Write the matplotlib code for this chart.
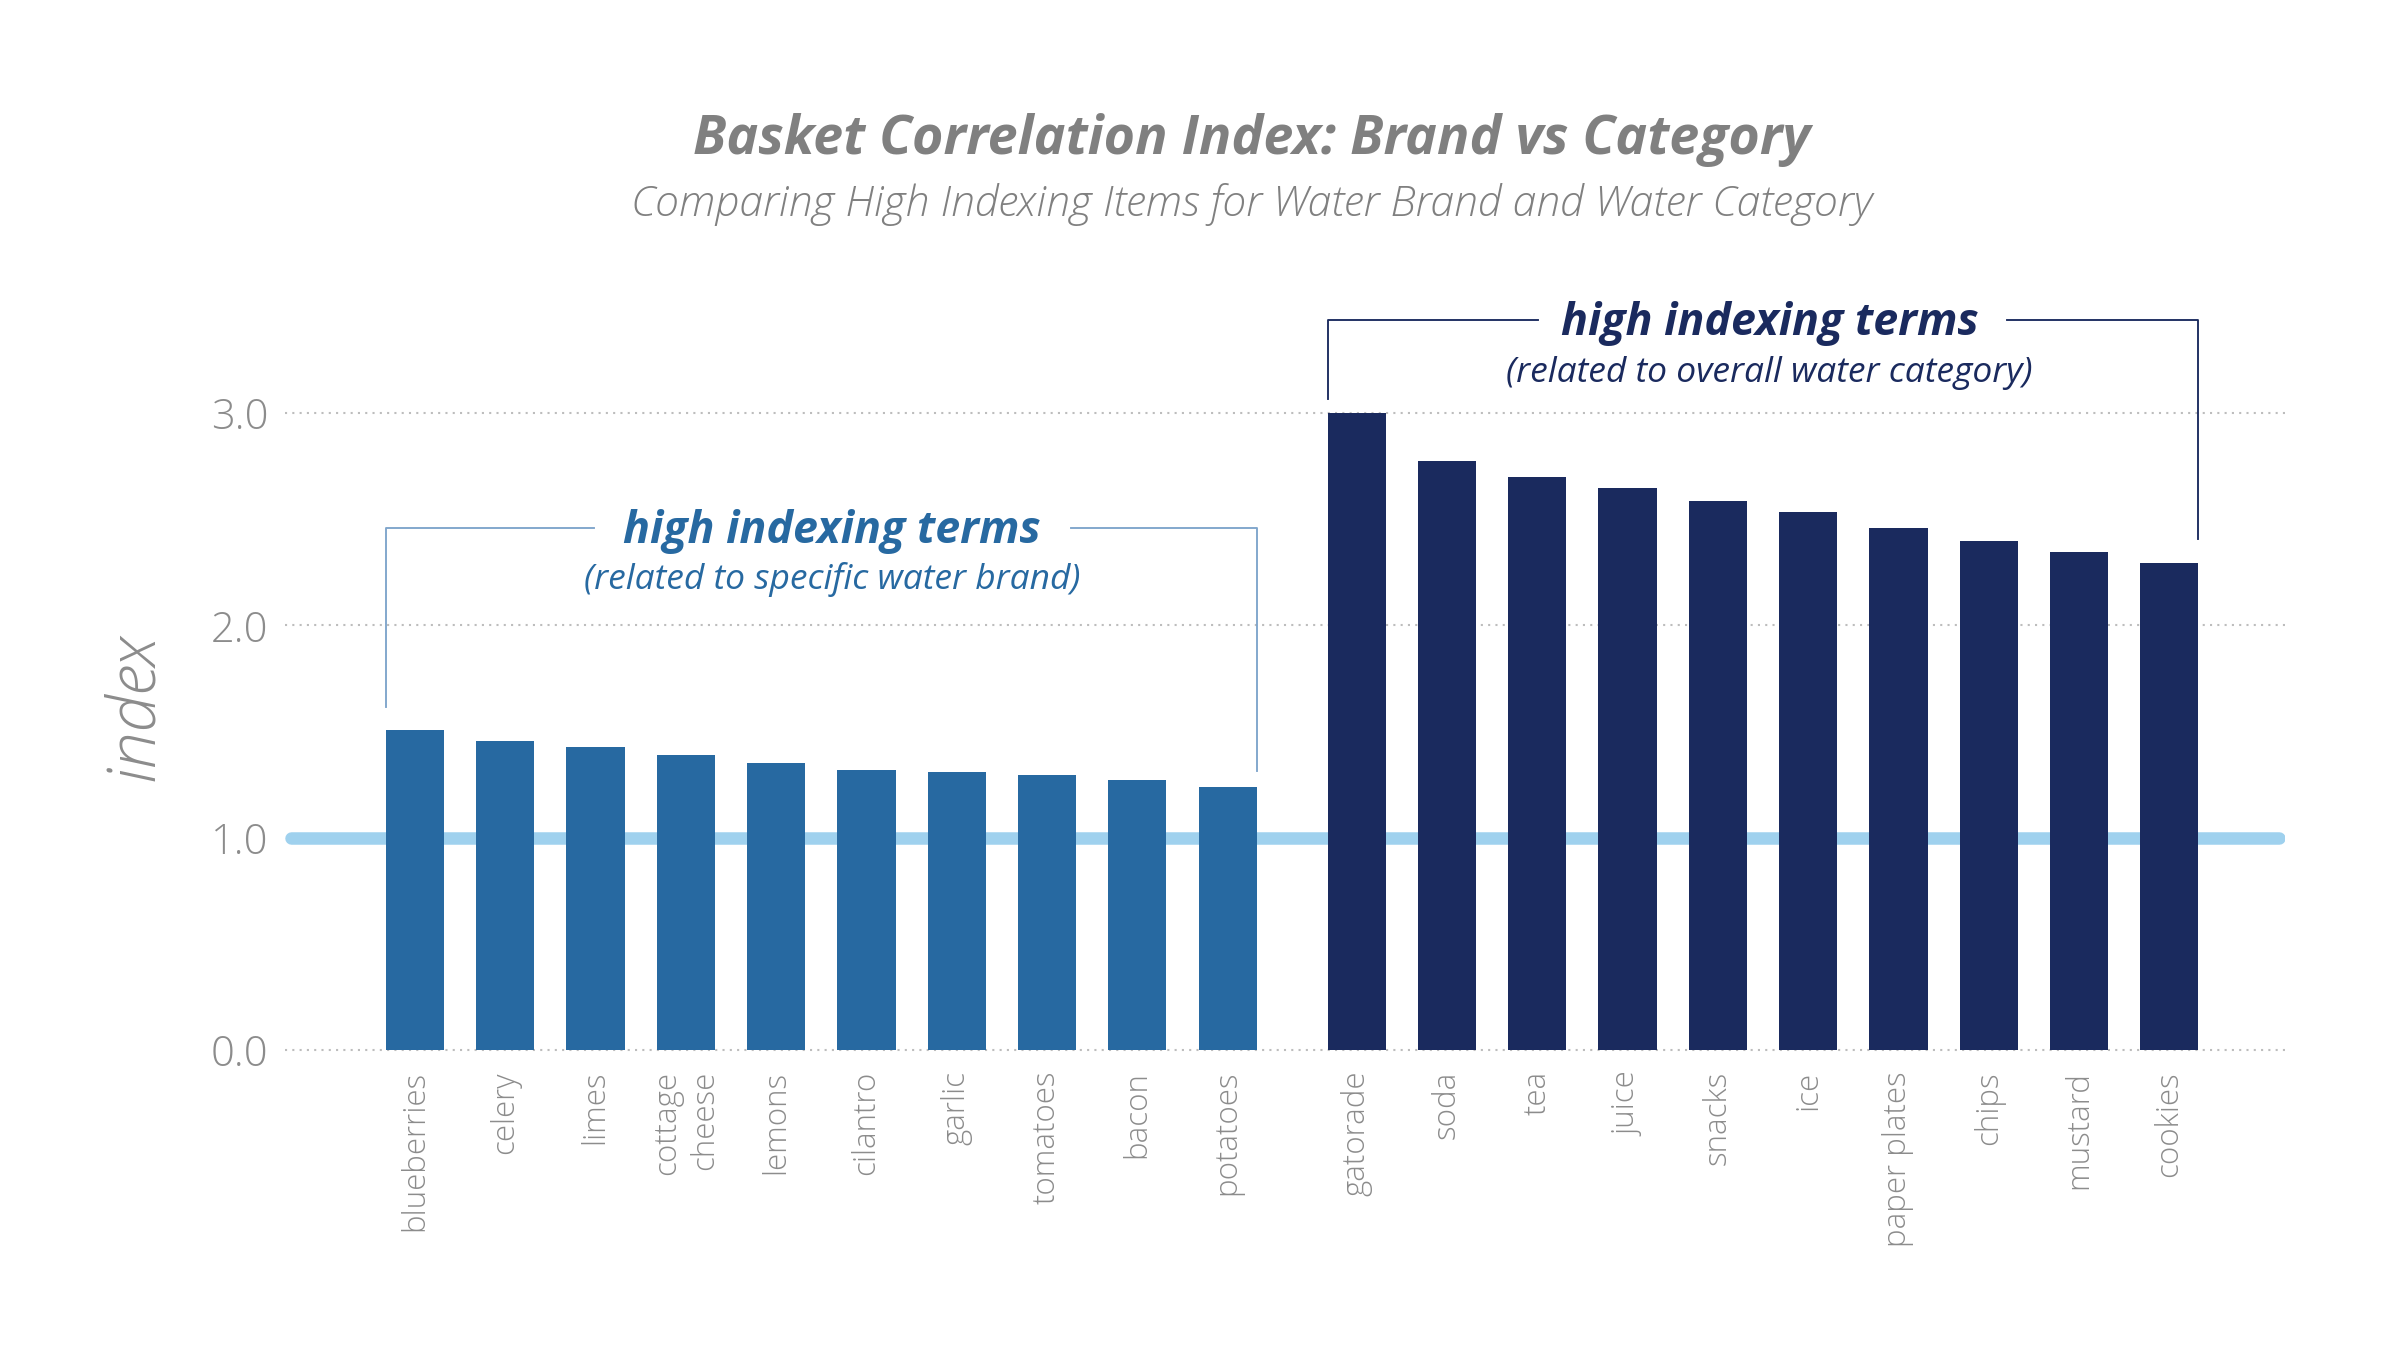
import matplotlib.pyplot as plt

# Data
brand_items = ['blueberries', 'celery', 'limes', 'cottage\ncheese', 'lemons',
               'cilantro', 'garlic', 'tomatoes', 'bacon', 'potatoes']
brand_index = [1.505, 1.455, 1.425, 1.39, 1.35, 1.32, 1.31, 1.295, 1.27, 1.24]

category_items = ['gatorade', 'soda', 'tea', 'juice', 'snacks', 'ice',
                  'paper plates', 'chips', 'mustard', 'cookies']
category_index = [3.00, 2.775, 2.70, 2.645, 2.585, 2.535, 2.46, 2.395, 2.345, 2.295]

y_ticks = [0.0, 1.0, 2.0, 3.0]
y_tick_labels = ['0.0', '1.0', '2.0', '3.0']

# Colors
brand_color = '#2769a1'
category_color = '#1a2a5e'
baseline_color = '#9fd1ee'
grid_color = '#bdbdbd'
text_gray = '#808080'
tick_gray = '#8c8c8c'

plt.rcParams['font.family'] = ['Open Sans', 'DejaVu Sans']

BAR_W = 0.645
GROUP_GAP = 0.43

brand_x = [i for i in range(len(brand_items))]
category_x = [len(brand_items) + GROUP_GAP + i for i in range(len(category_items))]

fig = plt.figure(figsize=(16, 9), dpi=150)
ax = fig.add_axes([0.11875, 0.2144, 0.8333, 0.574])

x_min, x_max = -1.44, 20.71
ax.set_xlim(x_min, x_max)
ax.set_ylim(-0.05, 3.6)

# Dotted grid lines (1.0 is drawn as the thick baseline instead)
for yv in y_ticks:
    if yv == 1.0:
        continue
    ax.plot([x_min, x_max], [yv, yv], ls=(0, (1, 2.5)), color=grid_color, lw=1.0, zorder=0)

# Index = 1 baseline
ax.plot([x_min + 0.07, x_max - 0.07], [1.0, 1.0], color=baseline_color, lw=6,
        solid_capstyle='round', zorder=1)

# Bars
ax.bar(brand_x, brand_index, width=BAR_W, color=brand_color, zorder=2)
ax.bar(category_x, category_index, width=BAR_W, color=category_color, zorder=2)

# Ticks
ax.set_yticks(y_ticks)
ax.set_yticklabels(y_tick_labels, fontsize=20, color=tick_gray, fontweight='light')
ax.set_xticks(brand_x + category_x)
labels = ax.set_xticklabels(brand_items + category_items, rotation=90, fontsize=15,
                            color=tick_gray, fontweight='light', va='top', ha='center',
                            linespacing=1.25)
for lb in labels:
    lb.set_multialignment('right')
ax.tick_params(axis='both', length=0)
ax.tick_params(axis='y', pad=8)
ax.tick_params(axis='x', pad=5)

for sp in ax.spines.values():
    sp.set_visible(False)

# Bracket annotations
def bracket(x_left, x_right, y_top, y_left_end, y_right_end, gap_l, gap_r, color):
    ax.plot([x_left, x_left, gap_l], [y_left_end, y_top, y_top], color=color, lw=0.9, zorder=3)
    ax.plot([gap_r, x_right, x_right], [y_top, y_top, y_right_end], color=color, lw=0.9, zorder=3)

b_left = brand_x[0] - BAR_W / 2
b_right = brand_x[-1] + BAR_W / 2
bracket(b_left, b_right, 2.46, brand_index[0] + 0.11, brand_index[-1] + 0.075,
        1.98, 7.27, '#7fa5cb')
ax.text(4.62, 2.44, 'high indexing terms', ha='center', va='center', fontsize=21.5,
        fontweight='bold', style='italic', color=brand_color)
ax.text(4.62, 2.215, '(related to specific water brand)', ha='center', va='center',
        fontsize=17, style='italic', color=brand_color)

c_left = category_x[0] - BAR_W / 2
c_right = category_x[-1] + BAR_W / 2
bracket(c_left, c_right, 3.44, category_index[0] + 0.065, category_index[-1] + 0.11,
        12.44, 17.63, category_color)
ax.text(15.0, 3.42, 'high indexing terms', ha='center', va='center', fontsize=21.5,
        fontweight='bold', style='italic', color=category_color)
ax.text(15.0, 3.19, '(related to overall water category)', ha='center', va='center',
        fontsize=17, style='italic', color=category_color)

# Titles
fig.text(0.5217, 1 - 140 / 1350, 'Basket Correlation Index: Brand vs Category',
         ha='center', va='center', fontsize=25.8, fontweight='bold', style='italic',
         color=text_gray)
fig.text(0.5217, 1 - 205 / 1350,
         'Comparing High Indexing Items for Water Brand and Water Category',
         ha='center', va='center', fontsize=20.5, fontweight='light', style='italic',
         color=text_gray)

# Y axis label
fig.text(0.0565, 1 - 707 / 1350, 'index', rotation=90, ha='center', va='center',
         fontsize=32, fontweight='light', style='italic', color=tick_gray)

fig.savefig('out.png', dpi=150, facecolor='white')
